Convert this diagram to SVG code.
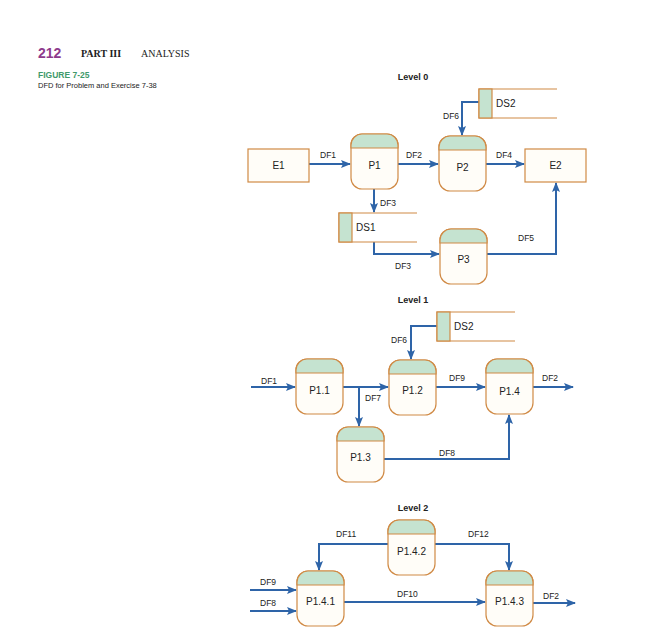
<svg xmlns="http://www.w3.org/2000/svg" xmlns:xlink="http://www.w3.org/1999/xlink" width="651" height="636" viewBox="0 0 651 636">
<style>
text{font-family:"Liberation Sans",Arial,sans-serif;fill:#222}
.lbl{font-size:8.5px}
.nm{font-size:10px;text-anchor:middle}
.lv{font-size:9px;font-weight:bold;text-anchor:middle}
.box{fill:#fffdf8;stroke:#d08a45;stroke-width:1.2}
.ds{fill:none;stroke:#d08a45;stroke-width:1.2}
.gr{fill:#c5e3d0;stroke:#d08a45;stroke-width:1.2}
.fl{fill:none;stroke:#2e64a8;stroke-width:2;marker-end:url(#ah)}
</style>
<defs>
<marker id="ah" markerWidth="10" markerHeight="8" refX="9" refY="4" orient="auto" markerUnits="userSpaceOnUse"><path d="M0,0 L10,4 L0,8 L2,4 Z" fill="#2e64a8"/></marker>
<g id="proc">
<rect class="box" x="0" y="0" width="47" height="55" rx="11"/>
<path class="gr" d="M0,14 V11 A11,11 0 0 1 11,0 H36 A11,11 0 0 1 47,11 V14 Z"/>
</g>
<g id="store">
<path class="ds" d="M78,0 H0 V29 H78"/>
<rect class="gr" x="0" y="0" width="13" height="29"/>
</g>
</defs>
<rect width="651" height="636" fill="#fff"/>
<text x="38" y="58" style="font-size:14px;font-weight:bold;fill:#8e3a8c">212</text>
<text x="81" y="57" style="font-family:'Liberation Serif',serif;font-size:10px;font-weight:bold">PART III</text>
<text x="141" y="57" style="font-family:'Liberation Serif',serif;font-size:10px">ANALYSIS</text>
<text x="38" y="78" style="font-size:8.5px;font-weight:bold;fill:#3f9a6b">FIGURE 7-25</text>
<text x="38" y="88" style="font-size:7.5px">DFD for Problem and Exercise 7-38</text>

<text class="lv" x="413" y="80">Level 0</text>
<text class="lv" x="413" y="303">Level 1</text>
<text class="lv" x="413" y="511">Level 2</text>

<g id="connectors">
<path class="fl" d="M309,164 H350"/>
<path class="fl" d="M397,164 H438"/>
<path class="fl" d="M486,164 H524"/>
<path class="fl" d="M479,102 H462 V135"/>
<path class="fl" d="M374,188 V212"/>
<path class="fl" d="M374,242 V254 H439"/>
<path class="fl" d="M487,254 H556 V183"/>
<path class="fl" d="M251,387 H295"/>
<path class="fl" d="M343,387 H388"/>
<path class="fl" d="M359,387 V426"/>
<path class="fl" d="M437,326 H411 V359"/>
<path class="fl" d="M436,387 H485"/>
<path class="fl" d="M533,387 H573"/>
<path class="fl" d="M384,459 H509 V415"/>
<path class="fl" d="M388,544 H319 V570"/>
<path class="fl" d="M435,544 H509 V570"/>
<path class="fl" d="M250,590 H296"/>
<path class="fl" d="M250,611 H296"/>
<path class="fl" d="M344,602 H485"/>
<path class="fl" d="M533,603 H575"/>
<g class="lbl">
<text x="320" y="158">DF1</text><text x="406" y="158">DF2</text><text x="496" y="158">DF4</text>
<text x="443" y="119">DF6</text><text x="380" y="206">DF3</text><text x="395" y="269">DF3</text>
<text x="518" y="241">DF5</text>
<text x="261" y="384">DF1</text><text x="365" y="401">DF7</text><text x="449" y="381">DF9</text>
<text x="542" y="381">DF2</text><text x="391" y="343">DF6</text><text x="439" y="456">DF8</text>
<text x="336" y="537">DF11</text><text x="468" y="537">DF12</text>
<text x="260" y="585">DF9</text><text x="260" y="606">DF8</text><text x="397" y="597">DF10</text><text x="543" y="599">DF2</text>
</g>
</g>

<g id="E1"><rect class="box" x="248" y="149" width="61" height="33"/><text class="nm" x="278.5" y="169">E1</text></g>
<g id="E2"><rect class="box" x="525" y="149" width="61" height="33"/><text class="nm" x="555.5" y="169">E2</text></g>
<g id="P1"><use xlink:href="#proc" x="351" y="134"/><text class="nm" x="374.5" y="169">P1</text></g>
<g id="P2"><use xlink:href="#proc" x="439" y="136"/><text class="nm" x="462.5" y="171">P2</text></g>
<g id="P3"><use xlink:href="#proc" x="440" y="229"/><text class="nm" x="463.5" y="263">P3</text></g>
<g id="DS2"><use xlink:href="#store" x="479" y="89"/><text x="496" y="107" style="font-size:10px">DS2</text></g>
<g id="DS1"><use xlink:href="#store" x="339" y="213"/><text x="356" y="231" style="font-size:10px">DS1</text></g>

<g id="P1.1"><use xlink:href="#proc" x="296" y="359"/><text class="nm" x="319.5" y="394">P1.1</text></g>
<g id="P1.2"><use xlink:href="#proc" x="389" y="360"/><text class="nm" x="412.5" y="394">P1.2</text></g>
<g id="P1.4"><use xlink:href="#proc" x="486" y="359"/><text class="nm" x="509.5" y="395">P1.4</text></g>
<g id="P1.3"><use xlink:href="#proc" x="337" y="427"/><text class="nm" x="360.5" y="461">P1.3</text></g>
<g id="DS2-L1"><use xlink:href="#store" x="437" y="312"/><text x="454" y="330" style="font-size:10px">DS2</text></g>

<g id="P1.4.2"><use xlink:href="#proc" x="388" y="520"/><text class="nm" x="411.5" y="555">P1.4.2</text></g>
<g id="P1.4.1"><use xlink:href="#proc" x="297" y="571"/><text class="nm" x="320.5" y="605">P1.4.1</text></g>
<g id="P1.4.3"><use xlink:href="#proc" x="486" y="571"/><text class="nm" x="509.5" y="605">P1.4.3</text></g>
</svg>
